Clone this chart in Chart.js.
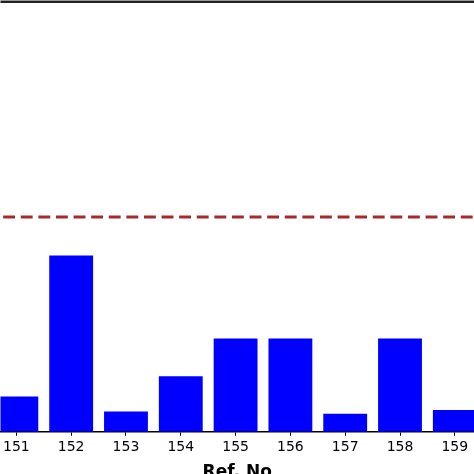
<!DOCTYPE html>
<html>
<head>
<meta charset="utf-8">
<script src="https://cdn.jsdelivr.net/npm/chart.js@4/dist/chart.umd.min.js"></script>
<style>
  html, body { margin: 0; padding: 0; background: #fff; overflow: hidden; width: 474px; height: 474px; }
  canvas { display: block; }
</style>
</head>
<body>
<canvas id="refChart" width="474" height="487"></canvas>
<script>
// values (y axis is cropped, so units are relative)
const refNos = ["151", "152", "153", "154", "155", "156", "157", "158", "159"];
const scores = [0.082, 0.41, 0.047, 0.129, 0.217, 0.217, 0.042, 0.217, 0.051];
const threshold = 0.5;

// visible window of the original plot (it was cropped on both sides)
const xMin = -0.29;
const xMax = 8.35;
const yMax = 1.0;

// top spine + dashed threshold
const framePlugin = {
  id: "framePlugin",
  afterDatasetsDraw(chart) {
    const { ctx, chartArea, scales } = chart;
    const y = scales.y.getPixelForValue(threshold);
    ctx.save();
    ctx.strokeStyle = "#a52a2a";
    ctx.lineWidth = 3;
    ctx.setLineDash([11.9, 5.7]);
    ctx.lineDashOffset = 14.9;
    ctx.beginPath();
    ctx.moveTo(chartArea.left, y);
    ctx.lineTo(chartArea.right, y);
    ctx.stroke();

    ctx.setLineDash([]);
    ctx.strokeStyle = "#222";
    ctx.lineWidth = 2;
    ctx.beginPath();
    ctx.moveTo(chartArea.left, chartArea.top);
    ctx.lineTo(chartArea.right, chartArea.top);
    ctx.stroke();
    ctx.strokeStyle = "#999";
    ctx.lineWidth = 1;
    ctx.beginPath();
    ctx.moveTo(chartArea.left, chartArea.top - 1.5);
    ctx.lineTo(chartArea.right, chartArea.top - 1.5);
    ctx.stroke();
    ctx.restore();
  },
};

const ctx = document.getElementById("refChart");

new Chart(ctx, {
  type: "bar",
  data: {
    datasets: [
      {
        label: "score",
        data: scores.map((v, i) => ({ x: i, y: v })),
        backgroundColor: "#0000ff",
        borderWidth: 0,
        categoryPercentage: 1.0,
        barPercentage: 0.8,
      },
    ],
  },
  options: {
    responsive: false,
    animation: false,
    layout: { padding: { top: 2, left: 0, right: 0, bottom: 0 } },
    plugins: {
      legend: { display: false },
      tooltip: { enabled: false },
    },
    scales: {
      x: {
        type: "linear",
        position: "bottom",
        min: xMin,
        max: xMax,
        offset: false,
        grid: {
          offset: false,
          drawOnChartArea: false,
          drawTicks: true,
          tickLength: 4,
          color: "#000",
          lineWidth: 1,
        },
        border: { display: true, color: "#000", width: 1.5 },
        ticks: {
          stepSize: 1,
          includeBounds: false,
          autoSkip: false,
          maxRotation: 0,
          padding: 3,
          color: "#000",
          font: { family: "DejaVu Sans", size: 14 },
          callback: (v) => (Number.isInteger(v) && refNos[v] ? refNos[v] : ""),
        },
        title: {
          display: true,
          text: "Ref. No",
          color: "#000",
          font: { family: "DejaVu Sans", size: 17, weight: "bold" },
          padding: { top: 4, bottom: 4 },
        },
      },
      y: {
        display: false,
        min: 0,
        max: yMax,
      },
    },
  },
  plugins: [framePlugin],
});
</script>
</body>
</html>
